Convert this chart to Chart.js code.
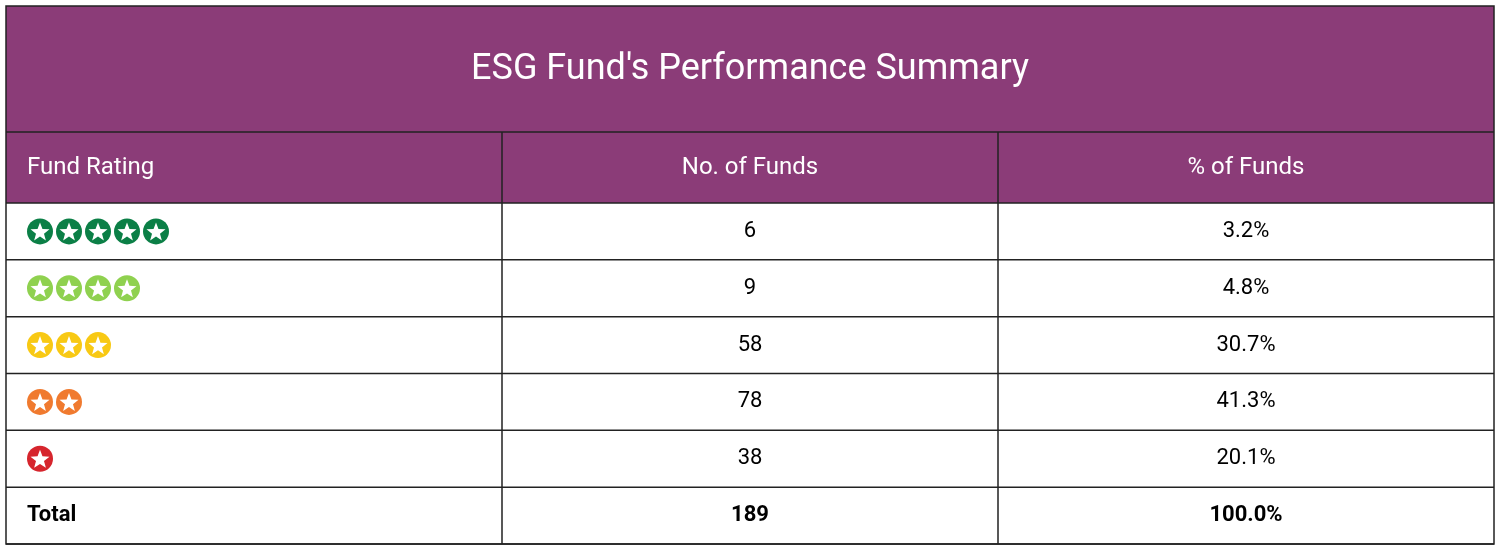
<!DOCTYPE html>
<html><head><meta charset="utf-8">
<script src="https://cdn.jsdelivr.net/npm/chart.js@4"></script>
<style>html,body{margin:0;padding:0;background:#fff;}#c{display:block;}</style>
</head><body>
<div style="width:1500px;height:550px;position:relative"><canvas id="c"></canvas></div>
<script>
const title = "ESG Fund's Performance Summary";
const headers = ["Fund Rating", "No. of Funds", "% of Funds"];
const rowLabels = ["5 stars", "4 stars", "3 stars", "2 stars", "1 star", "Total"];
const starCounts = [5, 4, 3, 2, 1, 0];
const starColors = ["#0b7f46", "#8fd14f", "#f8c914", "#f07a2f", "#d6252d", null];
const fundCounts = [6, 9, 58, 78, 38, 189];
const fundPct = ["3.2%", "4.8%", "30.7%", "41.3%", "20.1%", "100.0%"];
const PURPLE = "#8b3c78";

function star(ctx, cx, cy, R, r) {
  ctx.beginPath();
  for (let i = 0; i < 10; i++) {
    const a = -Math.PI / 2 + i * Math.PI / 5;
    const rad = i % 2 === 0 ? R : r;
    ctx.lineTo(cx + rad * Math.cos(a), cy + rad * Math.sin(a));
  }
  ctx.closePath();
  ctx.fill();
}

const tablePlugin = {
  id: 'table',
  afterDraw(chart) {
    const ctx = chart.ctx, y = chart.scales.y, ca = chart.chartArea;
    const L = ca.left, R = ca.right, T = 6, B = ca.bottom;
    const colX = [L, 502, 998, R];
    const band = (y.getPixelForValue(1) - y.getPixelForValue(0));
    const bodyTop = y.getPixelForValue(0) - band / 2;
    const headTop = 132;
    ctx.save();
    ctx.fillStyle = PURPLE;
    ctx.fillRect(L, T, R - L, bodyTop - T);
    ctx.fillStyle = "#fff";
    ctx.textBaseline = "middle"; ctx.textAlign = "center";
    ctx.font = "36px Roboto";
    ctx.fillText(title, (L + R) / 2, (T + headTop) / 2 + 1);
    ctx.font = "24px Roboto";
    const hy = (headTop + bodyTop) / 2;
    ctx.textAlign = "left"; ctx.fillText(headers[0], 27, hy);
    ctx.textAlign = "center";
    ctx.fillText(headers[1], (colX[1] + colX[2]) / 2, hy);
    ctx.fillText(headers[2], (colX[2] + colX[3]) / 2, hy);
    // rows
    rowLabels.forEach((lab, i) => {
      const cy = y.getPixelForValue(i);
      const bold = lab === "Total";
      ctx.fillStyle = "#000";
      ctx.font = (bold ? "bold " : "") + "22px Roboto";
      ctx.textAlign = "center";
      ctx.fillText(String(fundCounts[i]), (colX[1] + colX[2]) / 2, cy);
      ctx.fillText(fundPct[i], (colX[2] + colX[3]) / 2, cy);
      if (bold) { ctx.textAlign = "left"; ctx.fillText(lab, 27, cy); }
      for (let s = 0; s < starCounts[i]; s++) {
        const sx = 40 + s * 29;
        ctx.fillStyle = starColors[i];
        ctx.beginPath(); ctx.arc(sx, cy, 13, 0, Math.PI * 2); ctx.fill();
        ctx.fillStyle = "#fff";
        star(ctx, sx, cy + 1, 10, 4.2);
      }
    });
    // lines
    ctx.strokeStyle = "#222"; ctx.lineWidth = 1.5;
    ctx.beginPath();
    ctx.moveTo(L, headTop); ctx.lineTo(R, headTop);
    for (let i = 0; i <= rowLabels.length; i++) {
      const yy = bodyTop + i * band;
      ctx.moveTo(L, yy); ctx.lineTo(R, yy);
    }
    [1, 2].forEach(k => { ctx.moveTo(colX[k], headTop); ctx.lineTo(colX[k], B); });
    ctx.stroke();
    ctx.strokeRect(L, T, R - L, B - T);
    ctx.restore();
  }
};

new Chart(document.getElementById('c'), {
  type: 'bar',
  data: { labels: rowLabels, datasets: [{ data: fundCounts, backgroundColor: 'rgba(0,0,0,0)' }] },
  options: {
    indexAxis: 'y', responsive: true, maintainAspectRatio: false, animation: false,
    layout: { padding: { top: 203, bottom: 6, left: 6, right: 6 } },
    plugins: { legend: { display: false }, tooltip: { enabled: false } },
    scales: { x: { display: false, min: 0 }, y: { display: false, offset: true } }
  },
  plugins: [tablePlugin]
});
</script>
</body></html>
